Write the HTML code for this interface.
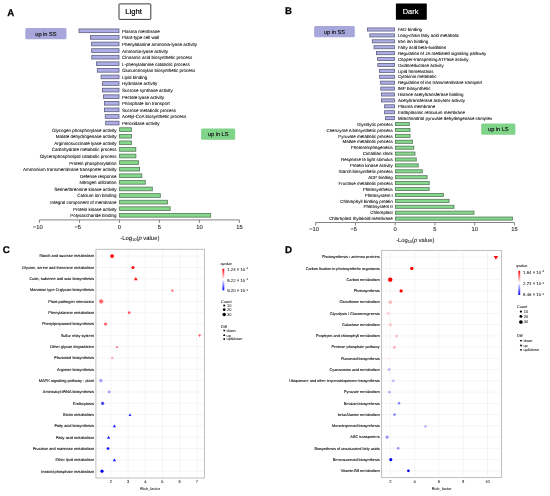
<!DOCTYPE html>
<html><head><meta charset="utf-8"><style>
html,body{margin:0;padding:0;background:#fff;}
svg{display:block;}
text{font-family:'Liberation Sans', Arial, sans-serif;}
text.s{text-rendering:geometricPrecision;}
</style></head><body>
<svg width="550" height="496" viewBox="0 0 550 496">
<defs><linearGradient id="grad" x1="0" y1="0" x2="0" y2="1">
<stop offset="0" stop-color="#ff0000"/><stop offset="0.5" stop-color="#ffffff"/><stop offset="1" stop-color="#0000ff"/>
</linearGradient></defs>
<rect width="550" height="496" fill="#fff"/>
<text x="7.20" y="15.85" font-size="9.7" text-anchor="start" fill="#000" font-weight="bold" stroke="#000" stroke-width="0.25" text-rendering="geometricPrecision">A</text>
<rect x="119.00" y="3.90" width="31.80" height="15.50" fill="#fff" stroke="#222" stroke-width="0.9" rx="0.6" />
<text x="133.60" y="14.10" font-size="7.65" text-anchor="middle" fill="#000" font-weight="normal" stroke="#000" stroke-width="0.2">Light</text>
<rect x="25.30" y="28.00" width="41.20" height="11.30" fill="#a7a7dc" stroke="none" stroke-width="0" rx="1.5" />
<text x="45.90" y="36.00" font-size="5.6" text-anchor="middle" fill="#1a1a1a" font-weight="normal" class="s" stroke="#1a1a1a" stroke-width="0.180" >up in SS</text>
<rect x="201.10" y="128.40" width="34.10" height="11.40" fill="#7fd489" stroke="none" stroke-width="0" rx="1.5" />
<text x="218.20" y="136.40" font-size="5.6" text-anchor="middle" fill="#1a1a1a" font-weight="normal" class="s" stroke="#1a1a1a" stroke-width="0.180" >up in LS</text>
<rect x="79.00" y="28.95" width="40.00" height="3.70" fill="#aeaee6" stroke="#5e5e80" stroke-width="0.8" rx="0" />
<text x="122.00" y="32.75" font-size="4.5" text-anchor="start" fill="#000" font-weight="normal" class="s" stroke="#000" stroke-width="0.060" >Plasma membrane</text>
<rect x="90.50" y="35.54" width="28.50" height="3.70" fill="#aeaee6" stroke="#5e5e80" stroke-width="0.8" rx="0" />
<text x="122.00" y="39.34" font-size="4.5" text-anchor="start" fill="#000" font-weight="normal" class="s" stroke="#000" stroke-width="0.060" >Plant-type cell wall</text>
<rect x="91.60" y="42.13" width="27.40" height="3.70" fill="#aeaee6" stroke="#5e5e80" stroke-width="0.8" rx="0" />
<text x="122.00" y="45.93" font-size="4.5" text-anchor="start" fill="#000" font-weight="normal" class="s" stroke="#000" stroke-width="0.060" >Phenylalanine ammonia-lyase activity</text>
<rect x="91.60" y="48.72" width="27.40" height="3.70" fill="#aeaee6" stroke="#5e5e80" stroke-width="0.8" rx="0" />
<text x="122.00" y="52.52" font-size="4.5" text-anchor="start" fill="#000" font-weight="normal" class="s" stroke="#000" stroke-width="0.060" >Ammonia-lyase activity</text>
<rect x="91.80" y="55.31" width="27.20" height="3.70" fill="#aeaee6" stroke="#5e5e80" stroke-width="0.8" rx="0" />
<text x="122.00" y="59.11" font-size="4.5" text-anchor="start" fill="#000" font-weight="normal" class="s" stroke="#000" stroke-width="0.060" >Cinnamic acid biosynthetic process</text>
<rect x="96.40" y="61.89" width="22.60" height="3.70" fill="#aeaee6" stroke="#5e5e80" stroke-width="0.8" rx="0" />
<text x="122.00" y="65.69" font-size="4.5" text-anchor="start" fill="#000" font-weight="normal" class="s" stroke="#000" stroke-width="0.060" >L-phenylalanine catabolic process</text>
<rect x="97.30" y="68.48" width="21.70" height="3.70" fill="#aeaee6" stroke="#5e5e80" stroke-width="0.8" rx="0" />
<text x="122.00" y="72.28" font-size="4.5" text-anchor="start" fill="#000" font-weight="normal" class="s" stroke="#000" stroke-width="0.060" >Glucuronoxylan biosynthetic process</text>
<rect x="101.10" y="75.07" width="17.90" height="3.70" fill="#aeaee6" stroke="#5e5e80" stroke-width="0.8" rx="0" />
<text x="122.00" y="78.87" font-size="4.5" text-anchor="start" fill="#000" font-weight="normal" class="s" stroke="#000" stroke-width="0.060" >Lipid binding</text>
<rect x="102.40" y="81.66" width="16.60" height="3.70" fill="#aeaee6" stroke="#5e5e80" stroke-width="0.8" rx="0" />
<text x="122.00" y="85.46" font-size="4.5" text-anchor="start" fill="#000" font-weight="normal" class="s" stroke="#000" stroke-width="0.060" >Hydrolase activity</text>
<rect x="102.40" y="88.25" width="16.60" height="3.70" fill="#aeaee6" stroke="#5e5e80" stroke-width="0.8" rx="0" />
<text x="122.00" y="92.05" font-size="4.5" text-anchor="start" fill="#000" font-weight="normal" class="s" stroke="#000" stroke-width="0.060" >Sucrose synthase activity</text>
<rect x="103.40" y="94.84" width="15.60" height="3.70" fill="#aeaee6" stroke="#5e5e80" stroke-width="0.8" rx="0" />
<text x="122.00" y="98.64" font-size="4.5" text-anchor="start" fill="#000" font-weight="normal" class="s" stroke="#000" stroke-width="0.060" >Pectate lyase activity</text>
<rect x="104.40" y="101.43" width="14.60" height="3.70" fill="#aeaee6" stroke="#5e5e80" stroke-width="0.8" rx="0" />
<text x="122.00" y="105.23" font-size="4.5" text-anchor="start" fill="#000" font-weight="normal" class="s" stroke="#000" stroke-width="0.060" >Phosphate ion transport</text>
<rect x="104.40" y="108.02" width="14.60" height="3.70" fill="#aeaee6" stroke="#5e5e80" stroke-width="0.8" rx="0" />
<text x="122.00" y="111.82" font-size="4.5" text-anchor="start" fill="#000" font-weight="normal" class="s" stroke="#000" stroke-width="0.060" >Sucrose metabolic process</text>
<rect x="105.20" y="114.61" width="13.80" height="3.70" fill="#aeaee6" stroke="#5e5e80" stroke-width="0.8" rx="0" />
<text x="122.00" y="118.41" font-size="4.5" text-anchor="start" fill="#000" font-weight="normal" class="s" stroke="#000" stroke-width="0.060" >Acetyl-CoA biosynthetic process</text>
<rect x="105.70" y="121.20" width="13.30" height="3.70" fill="#aeaee6" stroke="#5e5e80" stroke-width="0.8" rx="0" />
<text x="122.00" y="125.00" font-size="4.5" text-anchor="start" fill="#000" font-weight="normal" class="s" stroke="#000" stroke-width="0.060" >Peroxidase activity</text>
<rect x="119.60" y="127.79" width="11.80" height="3.70" fill="#86d88c" stroke="#56785a" stroke-width="0.8" rx="0" />
<text x="116.60" y="131.59" font-size="4.5" text-anchor="end" fill="#000" font-weight="normal" class="s" stroke="#000" stroke-width="0.060" >Glycogen phosphorylase activity</text>
<rect x="119.60" y="134.37" width="11.80" height="3.70" fill="#86d88c" stroke="#56785a" stroke-width="0.8" rx="0" />
<text x="116.60" y="138.17" font-size="4.5" text-anchor="end" fill="#000" font-weight="normal" class="s" stroke="#000" stroke-width="0.060" >Malate dehydrogenase activity</text>
<rect x="119.60" y="140.96" width="11.80" height="3.70" fill="#86d88c" stroke="#56785a" stroke-width="0.8" rx="0" />
<text x="116.60" y="144.76" font-size="4.5" text-anchor="end" fill="#000" font-weight="normal" class="s" stroke="#000" stroke-width="0.060" >Argininosuccinate lyase activity</text>
<rect x="119.60" y="147.55" width="16.20" height="3.70" fill="#86d88c" stroke="#56785a" stroke-width="0.8" rx="0" />
<text x="116.60" y="151.35" font-size="4.5" text-anchor="end" fill="#000" font-weight="normal" class="s" stroke="#000" stroke-width="0.060" >Carbohydrate metabolic process</text>
<rect x="119.60" y="154.14" width="16.30" height="3.70" fill="#86d88c" stroke="#56785a" stroke-width="0.8" rx="0" />
<text x="116.60" y="157.94" font-size="4.5" text-anchor="end" fill="#000" font-weight="normal" class="s" stroke="#000" stroke-width="0.060" >Glycerophospholipid catabolic process</text>
<rect x="119.60" y="160.73" width="18.90" height="3.70" fill="#86d88c" stroke="#56785a" stroke-width="0.8" rx="0" />
<text x="116.60" y="164.53" font-size="4.5" text-anchor="end" fill="#000" font-weight="normal" class="s" stroke="#000" stroke-width="0.060" >Protein phosphorylation</text>
<rect x="119.60" y="167.32" width="20.00" height="3.70" fill="#86d88c" stroke="#56785a" stroke-width="0.8" rx="0" />
<text x="116.60" y="171.12" font-size="4.5" text-anchor="end" fill="#000" font-weight="normal" class="s" stroke="#000" stroke-width="0.060" >Ammonium transmembrane transporter activity</text>
<rect x="119.60" y="173.91" width="22.20" height="3.70" fill="#86d88c" stroke="#56785a" stroke-width="0.8" rx="0" />
<text x="116.60" y="177.71" font-size="4.5" text-anchor="end" fill="#000" font-weight="normal" class="s" stroke="#000" stroke-width="0.060" >Defense response</text>
<rect x="119.60" y="180.50" width="25.60" height="3.70" fill="#86d88c" stroke="#56785a" stroke-width="0.8" rx="0" />
<text x="116.60" y="184.30" font-size="4.5" text-anchor="end" fill="#000" font-weight="normal" class="s" stroke="#000" stroke-width="0.060" >Nitrogen utilization</text>
<rect x="119.60" y="187.09" width="32.70" height="3.70" fill="#86d88c" stroke="#56785a" stroke-width="0.8" rx="0" />
<text x="116.60" y="190.89" font-size="4.5" text-anchor="end" fill="#000" font-weight="normal" class="s" stroke="#000" stroke-width="0.060" >Serine/threonine kinase activity</text>
<rect x="119.60" y="193.68" width="40.70" height="3.70" fill="#86d88c" stroke="#56785a" stroke-width="0.8" rx="0" />
<text x="116.60" y="197.47" font-size="4.5" text-anchor="end" fill="#000" font-weight="normal" class="s" stroke="#000" stroke-width="0.060" >Calcium ion binding</text>
<rect x="119.60" y="200.26" width="47.80" height="3.70" fill="#86d88c" stroke="#56785a" stroke-width="0.8" rx="0" />
<text x="116.60" y="204.06" font-size="4.5" text-anchor="end" fill="#000" font-weight="normal" class="s" stroke="#000" stroke-width="0.060" >Integral component of membrane</text>
<rect x="119.60" y="206.85" width="50.60" height="3.70" fill="#86d88c" stroke="#56785a" stroke-width="0.8" rx="0" />
<text x="116.60" y="210.65" font-size="4.5" text-anchor="end" fill="#000" font-weight="normal" class="s" stroke="#000" stroke-width="0.060" >Protein kinase activity</text>
<rect x="119.60" y="213.44" width="91.10" height="3.70" fill="#86d88c" stroke="#56785a" stroke-width="0.8" rx="0" />
<text x="116.60" y="217.24" font-size="4.5" text-anchor="end" fill="#000" font-weight="normal" class="s" stroke="#000" stroke-width="0.060" >Polysaccharide binding</text>
<line x1="39.40" y1="219.90" x2="239.40" y2="219.90" stroke="#666" stroke-width="0.8"/>
<line x1="39.40" y1="219.90" x2="39.40" y2="222.90" stroke="#666" stroke-width="0.8"/>
<text x="39.40" y="228.80" font-size="5.8" text-anchor="middle" fill="#222" font-weight="normal" class="s" stroke="#222" stroke-width="0.077" >10</text>
<text x="36.23" y="228.80" font-size="5.8" text-anchor="end" fill="#222" font-weight="normal" class="s" stroke="#222" stroke-width="0.077" >−</text>
<line x1="79.40" y1="219.90" x2="79.40" y2="222.90" stroke="#666" stroke-width="0.8"/>
<text x="79.40" y="228.80" font-size="5.8" text-anchor="middle" fill="#222" font-weight="normal" class="s" stroke="#222" stroke-width="0.077" >5</text>
<text x="77.84" y="228.80" font-size="5.8" text-anchor="end" fill="#222" font-weight="normal" class="s" stroke="#222" stroke-width="0.077" >−</text>
<line x1="119.40" y1="219.90" x2="119.40" y2="222.90" stroke="#666" stroke-width="0.8"/>
<text x="119.40" y="228.80" font-size="5.8" text-anchor="middle" fill="#222" font-weight="normal" class="s" stroke="#222" stroke-width="0.077" >0</text>
<line x1="159.40" y1="219.90" x2="159.40" y2="222.90" stroke="#666" stroke-width="0.8"/>
<text x="159.40" y="228.80" font-size="5.8" text-anchor="middle" fill="#222" font-weight="normal" class="s" stroke="#222" stroke-width="0.077" >5</text>
<line x1="199.40" y1="219.90" x2="199.40" y2="222.90" stroke="#666" stroke-width="0.8"/>
<text x="199.40" y="228.80" font-size="5.8" text-anchor="middle" fill="#222" font-weight="normal" class="s" stroke="#222" stroke-width="0.077" >10</text>
<line x1="239.40" y1="219.90" x2="239.40" y2="222.90" stroke="#666" stroke-width="0.8"/>
<text x="239.40" y="228.80" font-size="5.8" text-anchor="middle" fill="#222" font-weight="normal" class="s" stroke="#222" stroke-width="0.077" >15</text>
<text x="139.80" y="240.00" font-size="5.9" text-anchor="middle" fill="#222" font-weight="normal" class="s" stroke="#222" stroke-width="0.079" >-Log<tspan font-size="4.0" dy="1.3">10</tspan><tspan dy="-1.3">(</tspan><tspan font-style="italic">p</tspan> value)</text>
<text x="285.00" y="13.80" font-size="9.7" text-anchor="start" fill="#000" font-weight="bold" stroke="#000" stroke-width="0.25" text-rendering="geometricPrecision">B</text>
<rect x="395.90" y="3.40" width="30.90" height="16.30" fill="#000" stroke="none" stroke-width="0" rx="0.4" />
<text x="410.60" y="14.20" font-size="7.4" text-anchor="middle" fill="#fff" font-weight="normal" stroke="#fff" stroke-width="0.15">Dark</text>
<rect x="314.10" y="26.10" width="40.70" height="11.20" fill="#a7a7dc" stroke="none" stroke-width="0" rx="1.5" />
<text x="334.50" y="34.00" font-size="5.6" text-anchor="middle" fill="#1a1a1a" font-weight="normal" class="s" stroke="#1a1a1a" stroke-width="0.180" >up in SS</text>
<rect x="481.20" y="123.40" width="34.20" height="11.40" fill="#7fd489" stroke="none" stroke-width="0" rx="1.5" />
<text x="498.30" y="131.40" font-size="5.6" text-anchor="middle" fill="#1a1a1a" font-weight="normal" class="s" stroke="#1a1a1a" stroke-width="0.180" >up in LS</text>
<rect x="367.50" y="27.95" width="26.90" height="3.10" fill="#aeaee6" stroke="#5e5e80" stroke-width="0.8" rx="0" />
<text x="397.90" y="31.15" font-size="4.45" text-anchor="start" fill="#000" font-weight="normal" class="s" stroke="#000" stroke-width="0.059" >FAD binding</text>
<rect x="369.80" y="33.86" width="24.60" height="3.10" fill="#aeaee6" stroke="#5e5e80" stroke-width="0.8" rx="0" />
<text x="397.90" y="37.06" font-size="4.45" text-anchor="start" fill="#000" font-weight="normal" class="s" stroke="#000" stroke-width="0.059" >Long-chain fatty acid metabolic</text>
<rect x="372.30" y="39.77" width="22.10" height="3.10" fill="#aeaee6" stroke="#5e5e80" stroke-width="0.8" rx="0" />
<text x="397.90" y="42.97" font-size="4.45" text-anchor="start" fill="#000" font-weight="normal" class="s" stroke="#000" stroke-width="0.059" >Iron ion binding</text>
<rect x="374.00" y="45.68" width="20.40" height="3.10" fill="#aeaee6" stroke="#5e5e80" stroke-width="0.8" rx="0" />
<text x="397.90" y="48.88" font-size="4.45" text-anchor="start" fill="#000" font-weight="normal" class="s" stroke="#000" stroke-width="0.059" >Fatty acid beta-oxidation</text>
<rect x="376.40" y="51.59" width="18.00" height="3.10" fill="#aeaee6" stroke="#5e5e80" stroke-width="0.8" rx="0" />
<text x="397.90" y="54.79" font-size="4.45" text-anchor="start" fill="#000" font-weight="normal" class="s" stroke="#000" stroke-width="0.059" >Regulation of JA mediated signaling pathway</text>
<rect x="377.60" y="57.49" width="16.80" height="3.10" fill="#aeaee6" stroke="#5e5e80" stroke-width="0.8" rx="0" />
<text x="397.90" y="60.69" font-size="4.45" text-anchor="start" fill="#000" font-weight="normal" class="s" stroke="#000" stroke-width="0.059" >Copper-transporting ATPase activity</text>
<rect x="377.80" y="63.40" width="16.60" height="3.10" fill="#aeaee6" stroke="#5e5e80" stroke-width="0.8" rx="0" />
<text x="397.90" y="66.60" font-size="4.45" text-anchor="start" fill="#000" font-weight="normal" class="s" stroke="#000" stroke-width="0.059" >Oxidoreductase activity</text>
<rect x="379.40" y="69.31" width="15.00" height="3.10" fill="#aeaee6" stroke="#5e5e80" stroke-width="0.8" rx="0" />
<text x="397.90" y="72.51" font-size="4.45" text-anchor="start" fill="#000" font-weight="normal" class="s" stroke="#000" stroke-width="0.059" >Lipid homeostasis</text>
<rect x="379.60" y="75.22" width="14.80" height="3.10" fill="#aeaee6" stroke="#5e5e80" stroke-width="0.8" rx="0" />
<text x="397.90" y="78.42" font-size="4.45" text-anchor="start" fill="#000" font-weight="normal" class="s" stroke="#000" stroke-width="0.059" >Cytokinin metabolic</text>
<rect x="380.60" y="81.13" width="13.80" height="3.10" fill="#aeaee6" stroke="#5e5e80" stroke-width="0.8" rx="0" />
<text x="397.90" y="84.33" font-size="4.45" text-anchor="start" fill="#000" font-weight="normal" class="s" stroke="#000" stroke-width="0.059" >Regulation of ion transmembrane transport</text>
<rect x="380.80" y="87.04" width="13.60" height="3.10" fill="#aeaee6" stroke="#5e5e80" stroke-width="0.8" rx="0" />
<text x="397.90" y="90.24" font-size="4.45" text-anchor="start" fill="#000" font-weight="normal" class="s" stroke="#000" stroke-width="0.059" >IMP biosynthetic</text>
<rect x="381.40" y="92.95" width="13.00" height="3.10" fill="#aeaee6" stroke="#5e5e80" stroke-width="0.8" rx="0" />
<text x="397.90" y="96.15" font-size="4.45" text-anchor="start" fill="#000" font-weight="normal" class="s" stroke="#000" stroke-width="0.059" >Histone acetyltransferase binding</text>
<rect x="381.40" y="98.86" width="13.00" height="3.10" fill="#aeaee6" stroke="#5e5e80" stroke-width="0.8" rx="0" />
<text x="397.90" y="102.06" font-size="4.45" text-anchor="start" fill="#000" font-weight="normal" class="s" stroke="#000" stroke-width="0.059" >Acetyltransferase activator activity</text>
<rect x="384.60" y="104.77" width="9.80" height="3.10" fill="#aeaee6" stroke="#5e5e80" stroke-width="0.8" rx="0" />
<text x="397.90" y="107.97" font-size="4.45" text-anchor="start" fill="#000" font-weight="normal" class="s" stroke="#000" stroke-width="0.059" >Plasma membrane</text>
<rect x="384.60" y="110.68" width="9.80" height="3.10" fill="#aeaee6" stroke="#5e5e80" stroke-width="0.8" rx="0" />
<text x="397.90" y="113.88" font-size="4.45" text-anchor="start" fill="#000" font-weight="normal" class="s" stroke="#000" stroke-width="0.059" >Endoplasmic reticulum membrane</text>
<rect x="385.60" y="116.58" width="8.80" height="3.10" fill="#aeaee6" stroke="#5e5e80" stroke-width="0.8" rx="0" />
<text x="397.90" y="119.78" font-size="4.45" text-anchor="start" fill="#000" font-weight="normal" class="s" stroke="#000" stroke-width="0.059" >Mitochondrial pyruvate dehydrogenase complex</text>
<rect x="395.40" y="122.49" width="13.90" height="3.10" fill="#86d88c" stroke="#56785a" stroke-width="0.8" rx="0" />
<text x="392.80" y="125.69" font-size="4.45" text-anchor="end" fill="#000" font-weight="normal" class="s" stroke="#000" stroke-width="0.059" >Glycolytic process</text>
<rect x="395.40" y="128.40" width="14.60" height="3.10" fill="#86d88c" stroke="#56785a" stroke-width="0.8" rx="0" />
<text x="392.80" y="131.60" font-size="4.45" text-anchor="end" fill="#000" font-weight="normal" class="s" stroke="#000" stroke-width="0.059" >Coenzyme A biosynthetic process</text>
<rect x="395.40" y="134.31" width="14.60" height="3.10" fill="#86d88c" stroke="#56785a" stroke-width="0.8" rx="0" />
<text x="392.80" y="137.51" font-size="4.45" text-anchor="end" fill="#000" font-weight="normal" class="s" stroke="#000" stroke-width="0.059" >Pyruvate metabolic process</text>
<rect x="395.40" y="140.22" width="17.20" height="3.10" fill="#86d88c" stroke="#56785a" stroke-width="0.8" rx="0" />
<text x="392.80" y="143.42" font-size="4.45" text-anchor="end" fill="#000" font-weight="normal" class="s" stroke="#000" stroke-width="0.059" >Malate metabolic process</text>
<rect x="395.40" y="146.13" width="18.40" height="3.10" fill="#86d88c" stroke="#56785a" stroke-width="0.8" rx="0" />
<text x="392.80" y="149.33" font-size="4.45" text-anchor="end" fill="#000" font-weight="normal" class="s" stroke="#000" stroke-width="0.059" >Photomorphogenesis</text>
<rect x="395.40" y="152.04" width="19.60" height="3.10" fill="#86d88c" stroke="#56785a" stroke-width="0.8" rx="0" />
<text x="392.80" y="155.24" font-size="4.45" text-anchor="end" fill="#000" font-weight="normal" class="s" stroke="#000" stroke-width="0.059" >Circadian clock</text>
<rect x="395.40" y="157.95" width="20.90" height="3.10" fill="#86d88c" stroke="#56785a" stroke-width="0.8" rx="0" />
<text x="392.80" y="161.15" font-size="4.45" text-anchor="end" fill="#000" font-weight="normal" class="s" stroke="#000" stroke-width="0.059" >Response to light stimulus</text>
<rect x="395.40" y="163.86" width="22.80" height="3.10" fill="#86d88c" stroke="#56785a" stroke-width="0.8" rx="0" />
<text x="392.80" y="167.06" font-size="4.45" text-anchor="end" fill="#000" font-weight="normal" class="s" stroke="#000" stroke-width="0.059" >Protein kinase activity</text>
<rect x="395.40" y="169.77" width="26.90" height="3.10" fill="#86d88c" stroke="#56785a" stroke-width="0.8" rx="0" />
<text x="392.80" y="172.97" font-size="4.45" text-anchor="end" fill="#000" font-weight="normal" class="s" stroke="#000" stroke-width="0.059" >Starch biosynthetic process</text>
<rect x="395.40" y="175.67" width="31.70" height="3.10" fill="#86d88c" stroke="#56785a" stroke-width="0.8" rx="0" />
<text x="392.80" y="178.88" font-size="4.45" text-anchor="end" fill="#000" font-weight="normal" class="s" stroke="#000" stroke-width="0.059" >ADP binding</text>
<rect x="395.40" y="181.58" width="33.80" height="3.10" fill="#86d88c" stroke="#56785a" stroke-width="0.8" rx="0" />
<text x="392.80" y="184.78" font-size="4.45" text-anchor="end" fill="#000" font-weight="normal" class="s" stroke="#000" stroke-width="0.059" >Fructose metabolic process</text>
<rect x="395.40" y="187.49" width="33.80" height="3.10" fill="#86d88c" stroke="#56785a" stroke-width="0.8" rx="0" />
<text x="392.80" y="190.69" font-size="4.45" text-anchor="end" fill="#000" font-weight="normal" class="s" stroke="#000" stroke-width="0.059" >Photosynthesis</text>
<rect x="395.40" y="193.40" width="47.90" height="3.10" fill="#86d88c" stroke="#56785a" stroke-width="0.8" rx="0" />
<text x="392.80" y="196.60" font-size="4.45" text-anchor="end" fill="#000" font-weight="normal" class="s" stroke="#000" stroke-width="0.059" >Photosystem I</text>
<rect x="395.40" y="199.31" width="53.70" height="3.10" fill="#86d88c" stroke="#56785a" stroke-width="0.8" rx="0" />
<text x="392.80" y="202.51" font-size="4.45" text-anchor="end" fill="#000" font-weight="normal" class="s" stroke="#000" stroke-width="0.059" >Chlorophyll binding protein</text>
<rect x="395.40" y="205.22" width="58.60" height="3.10" fill="#86d88c" stroke="#56785a" stroke-width="0.8" rx="0" />
<text x="392.80" y="208.42" font-size="4.45" text-anchor="end" fill="#000" font-weight="normal" class="s" stroke="#000" stroke-width="0.059" >Photosystem II</text>
<rect x="395.40" y="211.13" width="78.60" height="3.10" fill="#86d88c" stroke="#56785a" stroke-width="0.8" rx="0" />
<text x="392.80" y="214.33" font-size="4.45" text-anchor="end" fill="#000" font-weight="normal" class="s" stroke="#000" stroke-width="0.059" >Chloroplast</text>
<rect x="395.40" y="217.04" width="117.10" height="3.10" fill="#86d88c" stroke="#56785a" stroke-width="0.8" rx="0" />
<text x="392.80" y="220.24" font-size="4.45" text-anchor="end" fill="#000" font-weight="normal" class="s" stroke="#000" stroke-width="0.059" >Chloroplast thylakoid membrane</text>
<line x1="315.50" y1="222.50" x2="514.20" y2="222.50" stroke="#666" stroke-width="0.8"/>
<line x1="315.70" y1="222.50" x2="315.70" y2="225.50" stroke="#666" stroke-width="0.8"/>
<text x="315.70" y="230.90" font-size="5.8" text-anchor="middle" fill="#222" font-weight="normal" class="s" stroke="#222" stroke-width="0.077" >10</text>
<text x="312.53" y="230.90" font-size="5.8" text-anchor="end" fill="#222" font-weight="normal" class="s" stroke="#222" stroke-width="0.077" >−</text>
<line x1="355.45" y1="222.50" x2="355.45" y2="225.50" stroke="#666" stroke-width="0.8"/>
<text x="355.45" y="230.90" font-size="5.8" text-anchor="middle" fill="#222" font-weight="normal" class="s" stroke="#222" stroke-width="0.077" >5</text>
<text x="353.89" y="230.90" font-size="5.8" text-anchor="end" fill="#222" font-weight="normal" class="s" stroke="#222" stroke-width="0.077" >−</text>
<line x1="395.20" y1="222.50" x2="395.20" y2="225.50" stroke="#666" stroke-width="0.8"/>
<text x="395.20" y="230.90" font-size="5.8" text-anchor="middle" fill="#222" font-weight="normal" class="s" stroke="#222" stroke-width="0.077" >0</text>
<line x1="434.95" y1="222.50" x2="434.95" y2="225.50" stroke="#666" stroke-width="0.8"/>
<text x="434.95" y="230.90" font-size="5.8" text-anchor="middle" fill="#222" font-weight="normal" class="s" stroke="#222" stroke-width="0.077" >5</text>
<line x1="474.70" y1="222.50" x2="474.70" y2="225.50" stroke="#666" stroke-width="0.8"/>
<text x="474.70" y="230.90" font-size="5.8" text-anchor="middle" fill="#222" font-weight="normal" class="s" stroke="#222" stroke-width="0.077" >10</text>
<line x1="514.45" y1="222.50" x2="514.45" y2="225.50" stroke="#666" stroke-width="0.8"/>
<text x="514.45" y="230.90" font-size="5.8" text-anchor="middle" fill="#222" font-weight="normal" class="s" stroke="#222" stroke-width="0.077" >15</text>
<text x="415.30" y="242.00" font-size="5.75" text-anchor="middle" fill="#222" font-weight="normal" class="s" stroke="#222" stroke-width="0.077" >-Log<tspan font-size="3.9" dy="1.3">10</tspan><tspan dy="-1.3">(</tspan><tspan font-style="italic">p</tspan> value)</text>
<text x="2.70" y="252.90" font-size="9.7" text-anchor="start" fill="#000" font-weight="bold" stroke="#000" stroke-width="0.25" text-rendering="geometricPrecision">C</text>
<rect x="95.90" y="249.30" width="108.50" height="228.70" fill="#fff" stroke="none" stroke-width="0" rx="0" />
<line x1="110.90" y1="249.30" x2="110.90" y2="478.00" stroke="#ebebeb" stroke-width="0.5"/>
<line x1="128.10" y1="249.30" x2="128.10" y2="478.00" stroke="#ebebeb" stroke-width="0.5"/>
<line x1="145.30" y1="249.30" x2="145.30" y2="478.00" stroke="#ebebeb" stroke-width="0.5"/>
<line x1="162.50" y1="249.30" x2="162.50" y2="478.00" stroke="#ebebeb" stroke-width="0.5"/>
<line x1="179.70" y1="249.30" x2="179.70" y2="478.00" stroke="#ebebeb" stroke-width="0.5"/>
<line x1="196.90" y1="249.30" x2="196.90" y2="478.00" stroke="#ebebeb" stroke-width="0.5"/>
<line x1="95.90" y1="256.09" x2="204.40" y2="256.09" stroke="#ebebeb" stroke-width="0.5"/>
<line x1="95.90" y1="267.41" x2="204.40" y2="267.41" stroke="#ebebeb" stroke-width="0.5"/>
<line x1="95.90" y1="278.74" x2="204.40" y2="278.74" stroke="#ebebeb" stroke-width="0.5"/>
<line x1="95.90" y1="290.06" x2="204.40" y2="290.06" stroke="#ebebeb" stroke-width="0.5"/>
<line x1="95.90" y1="301.38" x2="204.40" y2="301.38" stroke="#ebebeb" stroke-width="0.5"/>
<line x1="95.90" y1="312.70" x2="204.40" y2="312.70" stroke="#ebebeb" stroke-width="0.5"/>
<line x1="95.90" y1="324.02" x2="204.40" y2="324.02" stroke="#ebebeb" stroke-width="0.5"/>
<line x1="95.90" y1="335.35" x2="204.40" y2="335.35" stroke="#ebebeb" stroke-width="0.5"/>
<line x1="95.90" y1="346.67" x2="204.40" y2="346.67" stroke="#ebebeb" stroke-width="0.5"/>
<line x1="95.90" y1="357.99" x2="204.40" y2="357.99" stroke="#ebebeb" stroke-width="0.5"/>
<line x1="95.90" y1="369.31" x2="204.40" y2="369.31" stroke="#ebebeb" stroke-width="0.5"/>
<line x1="95.90" y1="380.63" x2="204.40" y2="380.63" stroke="#ebebeb" stroke-width="0.5"/>
<line x1="95.90" y1="391.95" x2="204.40" y2="391.95" stroke="#ebebeb" stroke-width="0.5"/>
<line x1="95.90" y1="403.28" x2="204.40" y2="403.28" stroke="#ebebeb" stroke-width="0.5"/>
<line x1="95.90" y1="414.60" x2="204.40" y2="414.60" stroke="#ebebeb" stroke-width="0.5"/>
<line x1="95.90" y1="425.92" x2="204.40" y2="425.92" stroke="#ebebeb" stroke-width="0.5"/>
<line x1="95.90" y1="437.24" x2="204.40" y2="437.24" stroke="#ebebeb" stroke-width="0.5"/>
<line x1="95.90" y1="448.56" x2="204.40" y2="448.56" stroke="#ebebeb" stroke-width="0.5"/>
<line x1="95.90" y1="459.89" x2="204.40" y2="459.89" stroke="#ebebeb" stroke-width="0.5"/>
<line x1="95.90" y1="471.21" x2="204.40" y2="471.21" stroke="#ebebeb" stroke-width="0.5"/>
<rect x="95.90" y="249.30" width="108.50" height="228.70" fill="none" stroke="#b8b8b8" stroke-width="0.9" rx="0" />
<text x="93.90" y="257.39" font-size="3.92" text-anchor="end" fill="#000" font-weight="normal" class="s" stroke="#000" stroke-width="0.080" >Starch and sucrose metabolism</text>
<text x="93.90" y="268.71" font-size="3.92" text-anchor="end" fill="#000" font-weight="normal" class="s" stroke="#000" stroke-width="0.080" >Glycine, serine and threonine metabolism</text>
<text x="93.90" y="280.04" font-size="3.92" text-anchor="end" fill="#000" font-weight="normal" class="s" stroke="#000" stroke-width="0.080" >Cutin, suberine and wax biosynthesis</text>
<text x="93.90" y="291.36" font-size="3.92" text-anchor="end" fill="#000" font-weight="normal" class="s" stroke="#000" stroke-width="0.080" >Mannose type O-glycan biosynthesis</text>
<text x="93.90" y="302.68" font-size="3.92" text-anchor="end" fill="#000" font-weight="normal" class="s" stroke="#000" stroke-width="0.080" >Plant-pathogen interaction</text>
<text x="93.90" y="314.00" font-size="3.92" text-anchor="end" fill="#000" font-weight="normal" class="s" stroke="#000" stroke-width="0.080" >Phenylalanine metabolism</text>
<text x="93.90" y="325.32" font-size="3.92" text-anchor="end" fill="#000" font-weight="normal" class="s" stroke="#000" stroke-width="0.080" >Phenylpropanoid biosynthesis</text>
<text x="93.90" y="336.65" font-size="3.92" text-anchor="end" fill="#000" font-weight="normal" class="s" stroke="#000" stroke-width="0.080" >Sulfur relay system</text>
<text x="93.90" y="347.97" font-size="3.92" text-anchor="end" fill="#000" font-weight="normal" class="s" stroke="#000" stroke-width="0.080" >Other glycan degradation</text>
<text x="93.90" y="359.29" font-size="3.92" text-anchor="end" fill="#000" font-weight="normal" class="s" stroke="#000" stroke-width="0.080" >Flavonoid biosynthesis</text>
<text x="93.90" y="370.61" font-size="3.92" text-anchor="end" fill="#000" font-weight="normal" class="s" stroke="#000" stroke-width="0.080" >Arginine biosynthesis</text>
<text x="93.90" y="381.93" font-size="3.92" text-anchor="end" fill="#000" font-weight="normal" class="s" stroke="#000" stroke-width="0.080" >MAPK signaling pathway - plant</text>
<text x="93.90" y="393.25" font-size="3.92" text-anchor="end" fill="#000" font-weight="normal" class="s" stroke="#000" stroke-width="0.080" >Aminoacyl-tRNA biosynthesis</text>
<text x="93.90" y="404.58" font-size="3.92" text-anchor="end" fill="#000" font-weight="normal" class="s" stroke="#000" stroke-width="0.080" >Endocytosis</text>
<text x="93.90" y="415.90" font-size="3.92" text-anchor="end" fill="#000" font-weight="normal" class="s" stroke="#000" stroke-width="0.080" >Biotin metabolism</text>
<text x="93.90" y="427.22" font-size="3.92" text-anchor="end" fill="#000" font-weight="normal" class="s" stroke="#000" stroke-width="0.080" >Fatty acid biosynthesis</text>
<text x="93.90" y="438.54" font-size="3.92" text-anchor="end" fill="#000" font-weight="normal" class="s" stroke="#000" stroke-width="0.080" >Fatty acid metabolism</text>
<text x="93.90" y="449.86" font-size="3.92" text-anchor="end" fill="#000" font-weight="normal" class="s" stroke="#000" stroke-width="0.080" >Fructose and mannose metabolism</text>
<text x="93.90" y="461.19" font-size="3.92" text-anchor="end" fill="#000" font-weight="normal" class="s" stroke="#000" stroke-width="0.080" >Ether lipid metabolism</text>
<text x="93.90" y="472.51" font-size="3.92" text-anchor="end" fill="#000" font-weight="normal" class="s" stroke="#000" stroke-width="0.080" >Inositol phosphate metabolism</text>
<text x="110.90" y="483.00" font-size="4.1" text-anchor="middle" fill="#222" font-weight="normal" class="s" stroke="#222" stroke-width="0.055" >2</text>
<text x="128.10" y="483.00" font-size="4.1" text-anchor="middle" fill="#222" font-weight="normal" class="s" stroke="#222" stroke-width="0.055" >3</text>
<text x="145.30" y="483.00" font-size="4.1" text-anchor="middle" fill="#222" font-weight="normal" class="s" stroke="#222" stroke-width="0.055" >4</text>
<text x="162.50" y="483.00" font-size="4.1" text-anchor="middle" fill="#222" font-weight="normal" class="s" stroke="#222" stroke-width="0.055" >5</text>
<text x="179.70" y="483.00" font-size="4.1" text-anchor="middle" fill="#222" font-weight="normal" class="s" stroke="#222" stroke-width="0.055" >6</text>
<text x="196.90" y="483.00" font-size="4.1" text-anchor="middle" fill="#222" font-weight="normal" class="s" stroke="#222" stroke-width="0.055" >7</text>
<text x="150.15" y="490.20" font-size="3.9" text-anchor="middle" fill="#111" font-weight="normal" class="s" stroke="#111" stroke-width="0.052" >Rich_factor</text>
<circle cx="112.10" cy="256.09" r="1.85" fill="#ff0000"/>
<circle cx="133.00" cy="267.41" r="1.50" fill="#ff0a0a"/>
<polygon points="133.95,280.30 137.65,280.30 135.80,277.10" fill="#ff1414"/>
<polygon points="170.85,291.45 173.95,291.45 172.40,288.77" fill="#ff6a78"/>
<circle cx="101.20" cy="301.38" r="2.10" fill="#ff6670"/>
<circle cx="129.20" cy="312.70" r="1.35" fill="#ff5a64"/>
<circle cx="105.60" cy="324.02" r="1.60" fill="#ff6670"/>
<polygon points="198.10,334.48 201.10,334.48 199.60,337.08" fill="#ff4a58"/>
<polygon points="115.45,348.06 118.55,348.06 117.00,345.38" fill="#ff8890"/>
<circle cx="112.30" cy="357.99" r="1.30" fill="#ffacb4"/>
<circle cx="100.90" cy="380.63" r="1.80" fill="#a8a8ff"/>
<circle cx="109.20" cy="391.95" r="1.40" fill="#9d9dff"/>
<circle cx="102.60" cy="403.28" r="1.60" fill="#4242ff"/>
<polygon points="128.50,415.96 131.50,415.96 130.00,413.37" fill="#3c3cff"/>
<polygon points="112.75,427.37 116.05,427.37 114.40,424.51" fill="#2020ff"/>
<polygon points="106.95,438.69 110.25,438.69 108.60,435.84" fill="#2020ff"/>
<circle cx="108.00" cy="448.56" r="1.40" fill="#1a1aff"/>
<polygon points="112.75,461.34 116.05,461.34 114.40,458.48" fill="#1010ff"/>
<circle cx="102.00" cy="471.21" r="1.60" fill="#0000f4"/>
<text x="220.40" y="265.10" font-size="3.9" text-anchor="start" fill="#111" font-weight="normal" class="s" stroke="#111" stroke-width="0.052" >qvalue</text>
<rect x="222.40" y="268.80" width="1.9" height="21.50" fill="url(#grad)"/>
<text x="227.20" y="270.60" font-size="4.3" text-anchor="start" fill="#222" font-weight="normal" class="s" stroke="#222" stroke-width="0.057" >1.24 × 10<tspan font-size="3.0" dx="0.3" dy="-1.6">-1</tspan></text>
<text x="227.20" y="281.80" font-size="4.3" text-anchor="start" fill="#222" font-weight="normal" class="s" stroke="#222" stroke-width="0.057" >5.22 × 10<tspan font-size="3.0" dx="0.3" dy="-1.6">-1</tspan></text>
<text x="227.20" y="292.10" font-size="4.3" text-anchor="start" fill="#222" font-weight="normal" class="s" stroke="#222" stroke-width="0.057" >9.20 × 10<tspan font-size="3.0" dx="0.3" dy="-1.6">-1</tspan></text>
<text x="221.10" y="302.50" font-size="3.9" text-anchor="start" fill="#111" font-weight="normal" class="s" stroke="#111" stroke-width="0.052" >Count</text>
<circle cx="224.20" cy="305.50" r="1.00" fill="#000"/>
<text x="227.00" y="306.90" font-size="3.95" text-anchor="start" fill="#222" font-weight="normal" class="s" stroke="#222" stroke-width="0.053" >10</text>
<circle cx="224.20" cy="309.70" r="1.35" fill="#000"/>
<text x="227.00" y="311.10" font-size="3.95" text-anchor="start" fill="#222" font-weight="normal" class="s" stroke="#222" stroke-width="0.053" >20</text>
<circle cx="224.20" cy="314.60" r="1.75" fill="#000"/>
<text x="227.00" y="316.00" font-size="3.95" text-anchor="start" fill="#222" font-weight="normal" class="s" stroke="#222" stroke-width="0.053" >30</text>
<text x="221.10" y="327.90" font-size="3.9" text-anchor="start" fill="#111" font-weight="normal" class="s" stroke="#111" stroke-width="0.052" >Diff</text>
<polygon points="222.95,329.68 225.45,329.68 224.20,331.84" fill="#000"/>
<text x="226.60" y="331.80" font-size="3.8" text-anchor="start" fill="#222" font-weight="normal" class="s" stroke="#222" stroke-width="0.051" >down</text>
<polygon points="222.95,336.02 225.45,336.02 224.20,333.86" fill="#000"/>
<text x="226.60" y="336.50" font-size="3.8" text-anchor="start" fill="#222" font-weight="normal" class="s" stroke="#222" stroke-width="0.051" >up</text>
<circle cx="224.20" cy="339.00" r="0.90" fill="#000"/>
<text x="226.60" y="340.40" font-size="3.8" text-anchor="start" fill="#222" font-weight="normal" class="s" stroke="#222" stroke-width="0.051" >up&amp;down</text>
<text x="285.00" y="252.70" font-size="9.7" text-anchor="start" fill="#000" font-weight="bold" stroke="#000" stroke-width="0.25" text-rendering="geometricPrecision">D</text>
<rect x="381.60" y="250.40" width="120.00" height="227.20" fill="#fff" stroke="none" stroke-width="0" rx="0" />
<line x1="390.30" y1="250.40" x2="390.30" y2="477.60" stroke="#ebebeb" stroke-width="0.5"/>
<line x1="414.60" y1="250.40" x2="414.60" y2="477.60" stroke="#ebebeb" stroke-width="0.5"/>
<line x1="438.90" y1="250.40" x2="438.90" y2="477.60" stroke="#ebebeb" stroke-width="0.5"/>
<line x1="463.20" y1="250.40" x2="463.20" y2="477.60" stroke="#ebebeb" stroke-width="0.5"/>
<line x1="487.50" y1="250.40" x2="487.50" y2="477.60" stroke="#ebebeb" stroke-width="0.5"/>
<line x1="381.60" y1="257.15" x2="501.60" y2="257.15" stroke="#ebebeb" stroke-width="0.5"/>
<line x1="381.60" y1="268.40" x2="501.60" y2="268.40" stroke="#ebebeb" stroke-width="0.5"/>
<line x1="381.60" y1="279.64" x2="501.60" y2="279.64" stroke="#ebebeb" stroke-width="0.5"/>
<line x1="381.60" y1="290.89" x2="501.60" y2="290.89" stroke="#ebebeb" stroke-width="0.5"/>
<line x1="381.60" y1="302.14" x2="501.60" y2="302.14" stroke="#ebebeb" stroke-width="0.5"/>
<line x1="381.60" y1="313.39" x2="501.60" y2="313.39" stroke="#ebebeb" stroke-width="0.5"/>
<line x1="381.60" y1="324.63" x2="501.60" y2="324.63" stroke="#ebebeb" stroke-width="0.5"/>
<line x1="381.60" y1="335.88" x2="501.60" y2="335.88" stroke="#ebebeb" stroke-width="0.5"/>
<line x1="381.60" y1="347.13" x2="501.60" y2="347.13" stroke="#ebebeb" stroke-width="0.5"/>
<line x1="381.60" y1="358.38" x2="501.60" y2="358.38" stroke="#ebebeb" stroke-width="0.5"/>
<line x1="381.60" y1="369.62" x2="501.60" y2="369.62" stroke="#ebebeb" stroke-width="0.5"/>
<line x1="381.60" y1="380.87" x2="501.60" y2="380.87" stroke="#ebebeb" stroke-width="0.5"/>
<line x1="381.60" y1="392.12" x2="501.60" y2="392.12" stroke="#ebebeb" stroke-width="0.5"/>
<line x1="381.60" y1="403.37" x2="501.60" y2="403.37" stroke="#ebebeb" stroke-width="0.5"/>
<line x1="381.60" y1="414.61" x2="501.60" y2="414.61" stroke="#ebebeb" stroke-width="0.5"/>
<line x1="381.60" y1="425.86" x2="501.60" y2="425.86" stroke="#ebebeb" stroke-width="0.5"/>
<line x1="381.60" y1="437.11" x2="501.60" y2="437.11" stroke="#ebebeb" stroke-width="0.5"/>
<line x1="381.60" y1="448.36" x2="501.60" y2="448.36" stroke="#ebebeb" stroke-width="0.5"/>
<line x1="381.60" y1="459.60" x2="501.60" y2="459.60" stroke="#ebebeb" stroke-width="0.5"/>
<line x1="381.60" y1="470.85" x2="501.60" y2="470.85" stroke="#ebebeb" stroke-width="0.5"/>
<rect x="381.60" y="250.40" width="120.00" height="227.20" fill="none" stroke="#b8b8b8" stroke-width="0.9" rx="0" />
<text x="379.60" y="258.45" font-size="3.82" text-anchor="end" fill="#000" font-weight="normal" class="s" stroke="#000" stroke-width="0.080" >Photosynthesis - antenna proteins</text>
<text x="379.60" y="269.70" font-size="3.82" text-anchor="end" fill="#000" font-weight="normal" class="s" stroke="#000" stroke-width="0.080" >Carbon fixation in photosynthetic organisms</text>
<text x="379.60" y="280.94" font-size="3.82" text-anchor="end" fill="#000" font-weight="normal" class="s" stroke="#000" stroke-width="0.080" >Carbon metabolism</text>
<text x="379.60" y="292.19" font-size="3.82" text-anchor="end" fill="#000" font-weight="normal" class="s" stroke="#000" stroke-width="0.080" >Photosynthesis</text>
<text x="379.60" y="303.44" font-size="3.82" text-anchor="end" fill="#000" font-weight="normal" class="s" stroke="#000" stroke-width="0.080" >Glutathione metabolism</text>
<text x="379.60" y="314.69" font-size="3.82" text-anchor="end" fill="#000" font-weight="normal" class="s" stroke="#000" stroke-width="0.080" >Glycolysis / Gluconeogenesis</text>
<text x="379.60" y="325.93" font-size="3.82" text-anchor="end" fill="#000" font-weight="normal" class="s" stroke="#000" stroke-width="0.080" >Galactose metabolism</text>
<text x="379.60" y="337.18" font-size="3.82" text-anchor="end" fill="#000" font-weight="normal" class="s" stroke="#000" stroke-width="0.080" >Porphyrin and chlorophyll metabolism</text>
<text x="379.60" y="348.43" font-size="3.82" text-anchor="end" fill="#000" font-weight="normal" class="s" stroke="#000" stroke-width="0.080" >Pentose phosphate pathway</text>
<text x="379.60" y="359.68" font-size="3.82" text-anchor="end" fill="#000" font-weight="normal" class="s" stroke="#000" stroke-width="0.080" >Flavonoid biosynthesis</text>
<text x="379.60" y="370.92" font-size="3.82" text-anchor="end" fill="#000" font-weight="normal" class="s" stroke="#000" stroke-width="0.080" >Cyanoamino acid metabolism</text>
<text x="379.60" y="382.17" font-size="3.82" text-anchor="end" fill="#000" font-weight="normal" class="s" stroke="#000" stroke-width="0.080" >Ubiquinone and other terpenoid-quinone biosynthesis</text>
<text x="379.60" y="393.42" font-size="3.82" text-anchor="end" fill="#000" font-weight="normal" class="s" stroke="#000" stroke-width="0.080" >Pyruvate metabolism</text>
<text x="379.60" y="404.67" font-size="3.82" text-anchor="end" fill="#000" font-weight="normal" class="s" stroke="#000" stroke-width="0.080" >Betalain biosynthesis</text>
<text x="379.60" y="415.91" font-size="3.82" text-anchor="end" fill="#000" font-weight="normal" class="s" stroke="#000" stroke-width="0.080" >beta-Alanine metabolism</text>
<text x="379.60" y="427.16" font-size="3.82" text-anchor="end" fill="#000" font-weight="normal" class="s" stroke="#000" stroke-width="0.080" >Monoterpenoid biosynthesis</text>
<text x="379.60" y="438.41" font-size="3.82" text-anchor="end" fill="#000" font-weight="normal" class="s" stroke="#000" stroke-width="0.080" >ABC transporters</text>
<text x="379.60" y="449.66" font-size="3.82" text-anchor="end" fill="#000" font-weight="normal" class="s" stroke="#000" stroke-width="0.080" >Biosynthesis of unsaturated fatty acids</text>
<text x="379.60" y="460.90" font-size="3.82" text-anchor="end" fill="#000" font-weight="normal" class="s" stroke="#000" stroke-width="0.080" >Benzoxazinoid biosynthesis</text>
<text x="379.60" y="472.15" font-size="3.82" text-anchor="end" fill="#000" font-weight="normal" class="s" stroke="#000" stroke-width="0.080" >Vitamin B6 metabolism</text>
<text x="390.30" y="483.00" font-size="4.1" text-anchor="middle" fill="#222" font-weight="normal" class="s" stroke="#222" stroke-width="0.055" >2</text>
<text x="414.60" y="483.00" font-size="4.1" text-anchor="middle" fill="#222" font-weight="normal" class="s" stroke="#222" stroke-width="0.055" >4</text>
<text x="438.90" y="483.00" font-size="4.1" text-anchor="middle" fill="#222" font-weight="normal" class="s" stroke="#222" stroke-width="0.055" >6</text>
<text x="463.20" y="483.00" font-size="4.1" text-anchor="middle" fill="#222" font-weight="normal" class="s" stroke="#222" stroke-width="0.055" >8</text>
<text x="487.50" y="483.00" font-size="4.1" text-anchor="middle" fill="#222" font-weight="normal" class="s" stroke="#222" stroke-width="0.055" >10</text>
<text x="441.60" y="490.20" font-size="3.9" text-anchor="middle" fill="#111" font-weight="normal" class="s" stroke="#111" stroke-width="0.052" >Rich_factor</text>
<polygon points="493.70,255.88 498.10,255.88 495.90,259.69" fill="#ff0000"/>
<circle cx="411.80" cy="268.40" r="1.70" fill="#ff0000"/>
<circle cx="390.20" cy="279.64" r="2.20" fill="#ff0000"/>
<circle cx="401.10" cy="290.89" r="1.60" fill="#ff0000"/>
<circle cx="390.30" cy="302.14" r="1.70" fill="#ffb4bc"/>
<circle cx="388.20" cy="313.39" r="1.60" fill="#ffd2d6"/>
<circle cx="390.30" cy="324.63" r="1.60" fill="#ffc6cc"/>
<circle cx="396.50" cy="335.88" r="1.50" fill="#ffc0c8"/>
<circle cx="394.40" cy="347.13" r="1.50" fill="#ffb8c0"/>
<circle cx="388.60" cy="358.38" r="1.50" fill="#fff0f2"/>
<circle cx="389.10" cy="369.62" r="1.45" fill="#b4b4ff"/>
<circle cx="393.20" cy="380.87" r="1.45" fill="#bcbcff"/>
<circle cx="389.40" cy="392.12" r="1.45" fill="#b0b0ff"/>
<circle cx="399.00" cy="403.37" r="1.25" fill="#8080ff"/>
<circle cx="394.60" cy="414.61" r="1.35" fill="#8888ff"/>
<polygon points="424.05,427.20 426.95,427.20 425.50,424.69" fill="#9a9aff"/>
<circle cx="387.10" cy="437.11" r="1.65" fill="#9090ff"/>
<circle cx="398.20" cy="448.36" r="1.30" fill="#9494ff"/>
<circle cx="390.80" cy="459.60" r="1.55" fill="#0000ff"/>
<circle cx="408.40" cy="470.85" r="1.35" fill="#0000f0"/>
<text x="516.00" y="267.40" font-size="3.9" text-anchor="start" fill="#111" font-weight="normal" class="s" stroke="#111" stroke-width="0.052" >qvalue</text>
<rect x="518.30" y="270.80" width="1.9" height="24.10" fill="url(#grad)"/>
<text x="523.10" y="273.50" font-size="4.3" text-anchor="start" fill="#222" font-weight="normal" class="s" stroke="#222" stroke-width="0.057" >1.54 × 10<tspan font-size="3.0" dx="0.3" dy="-1.6">-4</tspan></text>
<text x="523.10" y="285.30" font-size="4.3" text-anchor="start" fill="#222" font-weight="normal" class="s" stroke="#222" stroke-width="0.057" >2.73 × 10<tspan font-size="3.0" dx="0.3" dy="-1.6">-1</tspan></text>
<text x="523.10" y="296.40" font-size="4.3" text-anchor="start" fill="#222" font-weight="normal" class="s" stroke="#222" stroke-width="0.057" >5.46 × 10<tspan font-size="3.0" dx="0.3" dy="-1.6">-1</tspan></text>
<text x="516.90" y="307.70" font-size="3.9" text-anchor="start" fill="#111" font-weight="normal" class="s" stroke="#111" stroke-width="0.052" >Count</text>
<circle cx="520.90" cy="311.60" r="1.10" fill="#000"/>
<text x="523.80" y="313.00" font-size="3.95" text-anchor="start" fill="#222" font-weight="normal" class="s" stroke="#222" stroke-width="0.053" >10</text>
<circle cx="520.90" cy="316.40" r="1.45" fill="#000"/>
<text x="523.80" y="317.80" font-size="3.95" text-anchor="start" fill="#222" font-weight="normal" class="s" stroke="#222" stroke-width="0.053" >20</text>
<circle cx="520.90" cy="322.00" r="1.85" fill="#000"/>
<text x="523.80" y="323.40" font-size="3.95" text-anchor="start" fill="#222" font-weight="normal" class="s" stroke="#222" stroke-width="0.053" >30</text>
<text x="516.90" y="336.90" font-size="3.9" text-anchor="start" fill="#111" font-weight="normal" class="s" stroke="#111" stroke-width="0.052" >Diff</text>
<polygon points="519.75,339.88 522.25,339.88 521.00,342.04" fill="#000"/>
<text x="523.40" y="342.00" font-size="3.8" text-anchor="start" fill="#222" font-weight="normal" class="s" stroke="#222" stroke-width="0.051" >down</text>
<polygon points="519.75,346.22 522.25,346.22 521.00,344.06" fill="#000"/>
<text x="523.40" y="346.70" font-size="3.8" text-anchor="start" fill="#222" font-weight="normal" class="s" stroke="#222" stroke-width="0.051" >up</text>
<circle cx="521.00" cy="349.80" r="0.90" fill="#000"/>
<text x="523.40" y="351.20" font-size="3.8" text-anchor="start" fill="#222" font-weight="normal" class="s" stroke="#222" stroke-width="0.051" >up&amp;down</text>
</svg>
</body></html>
